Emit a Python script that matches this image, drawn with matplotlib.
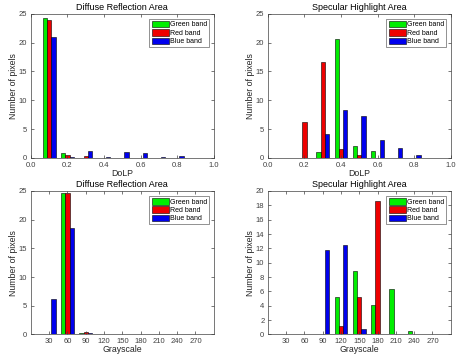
import numpy as np
import matplotlib
matplotlib.use('Agg')
import matplotlib.pyplot as plt

plt.rcParams['font.family'] = ['Liberation Sans', 'DejaVu Sans']

# DoLP histograms (group centres)
dolp_x = [0.1, 0.2, 0.3, 0.4, 0.5, 0.6, 0.7, 0.8]
diff_dolp_green = [24.2, 0.8, 0, 0, 0, 0, 0, 0]
diff_dolp_red = [24.0, 0.6, 0.4, 0, 0, 0, 0, 0]
diff_dolp_blue = [21.0, 0.2, 1.2, 0.2, 1.0, 0.8, 0.2, 0.4]
spec_dolp_green = [0, 0, 1.1, 20.6, 2.1, 1.2, 0, 0]
spec_dolp_red = [0, 6.2, 16.7, 1.6, 0.5, 0, 0, 0]
spec_dolp_blue = [0, 0, 4.1, 8.3, 7.2, 3.1, 1.8, 0.5]

# Grayscale histograms
gray_x = [30, 60, 90, 120, 150, 180, 210, 240, 270]
diff_gray_green = [0.1, 24.7, 0.2, 0, 0, 0, 0, 0, 0]
diff_gray_red = [0.1, 24.6, 0.4, 0, 0, 0, 0, 0, 0]
diff_gray_blue = [6.2, 18.6, 0.2, 0, 0, 0, 0, 0, 0]
spec_gray_green = [0, 0, 0, 5.2, 8.8, 4.1, 6.4, 0.5, 0]
spec_gray_red = [0, 0, 0, 1.2, 5.2, 18.6, 0, 0, 0]
spec_gray_blue = [0, 0, 11.8, 12.4, 0.8, 0, 0, 0, 0]

band_names = ['Green band', 'Red band', 'Blue band']
band_colors = ['#00ee00', '#ee0000', '#0000ee']
axis_col = '#404040'


def draw(ax, x, series, width, title, xlabel, xlim, xticks, ylim, yticks):
    x = np.array(x, dtype=float)
    for i, (vals, name, col) in enumerate(zip(series, band_names, band_colors)):
        ax.bar(x + (i - 1) * width, vals, width=width, color=col,
               edgecolor='black', linewidth=0.4, label=name)
    ax.set_xlim(*xlim)
    ax.set_ylim(*ylim)
    ax.set_xticks(xticks)
    ax.set_yticks(yticks)
    ax.set_title(title, fontsize=6.5, pad=3)
    ax.set_xlabel(xlabel, fontsize=6.3, labelpad=0, color='#262626')
    ax.set_ylabel('Number of pixels', fontsize=6.3, labelpad=0.5, color='#262626')
    ax.tick_params(direction='in', top=True, right=True, labelsize=5.5,
                   length=2.5, width=0.5, colors=axis_col)
    ax.tick_params(axis='x', pad=2.8)
    ax.tick_params(axis='y', pad=2.5)
    for s in ax.spines.values():
        s.set_linewidth(0.5)
        s.set_color(axis_col)
    leg = ax.legend(loc='upper right', fontsize=5, fancybox=False,
                    handlelength=2.5, handleheight=1.1, handletextpad=0.1,
                    borderpad=0.3, labelspacing=0.1, borderaxespad=0.7)
    leg.get_frame().set_linewidth(0.5)
    leg.get_frame().set_edgecolor(axis_col)


fig = plt.figure(figsize=(4.74, 3.55), dpi=100)
ax1 = fig.add_axes([0.065, 0.555, 0.386, 0.406])
ax2 = fig.add_axes([0.565, 0.555, 0.386, 0.406])
ax3 = fig.add_axes([0.065, 0.058, 0.386, 0.404])
ax4 = fig.add_axes([0.565, 0.058, 0.386, 0.404])

dolp_ticks = [0, 0.2, 0.4, 0.6, 0.8, 1]
draw(ax1, dolp_x, [diff_dolp_green, diff_dolp_red, diff_dolp_blue], 0.0235,
     'Diffuse Reflection Area', 'DoLP', (0, 1), dolp_ticks, (0, 25), range(0, 26, 5))
draw(ax2, dolp_x, [spec_dolp_green, spec_dolp_red, spec_dolp_blue], 0.0235,
     'Specular Highlight Area', 'DoLP', (0, 1), dolp_ticks, (0, 25), range(0, 26, 5))
draw(ax3, gray_x, [diff_gray_green, diff_gray_red, diff_gray_blue], 7.1,
     'Diffuse Reflection Area', 'Grayscale', (0, 300), gray_x, (0, 25), range(0, 26, 5))
draw(ax4, gray_x, [spec_gray_green, spec_gray_red, spec_gray_blue], 7.1,
     'Specular Highlight Area', 'Grayscale', (0, 300), gray_x, (0, 20), range(0, 21, 2))

fig.savefig('out.png', dpi=100)
